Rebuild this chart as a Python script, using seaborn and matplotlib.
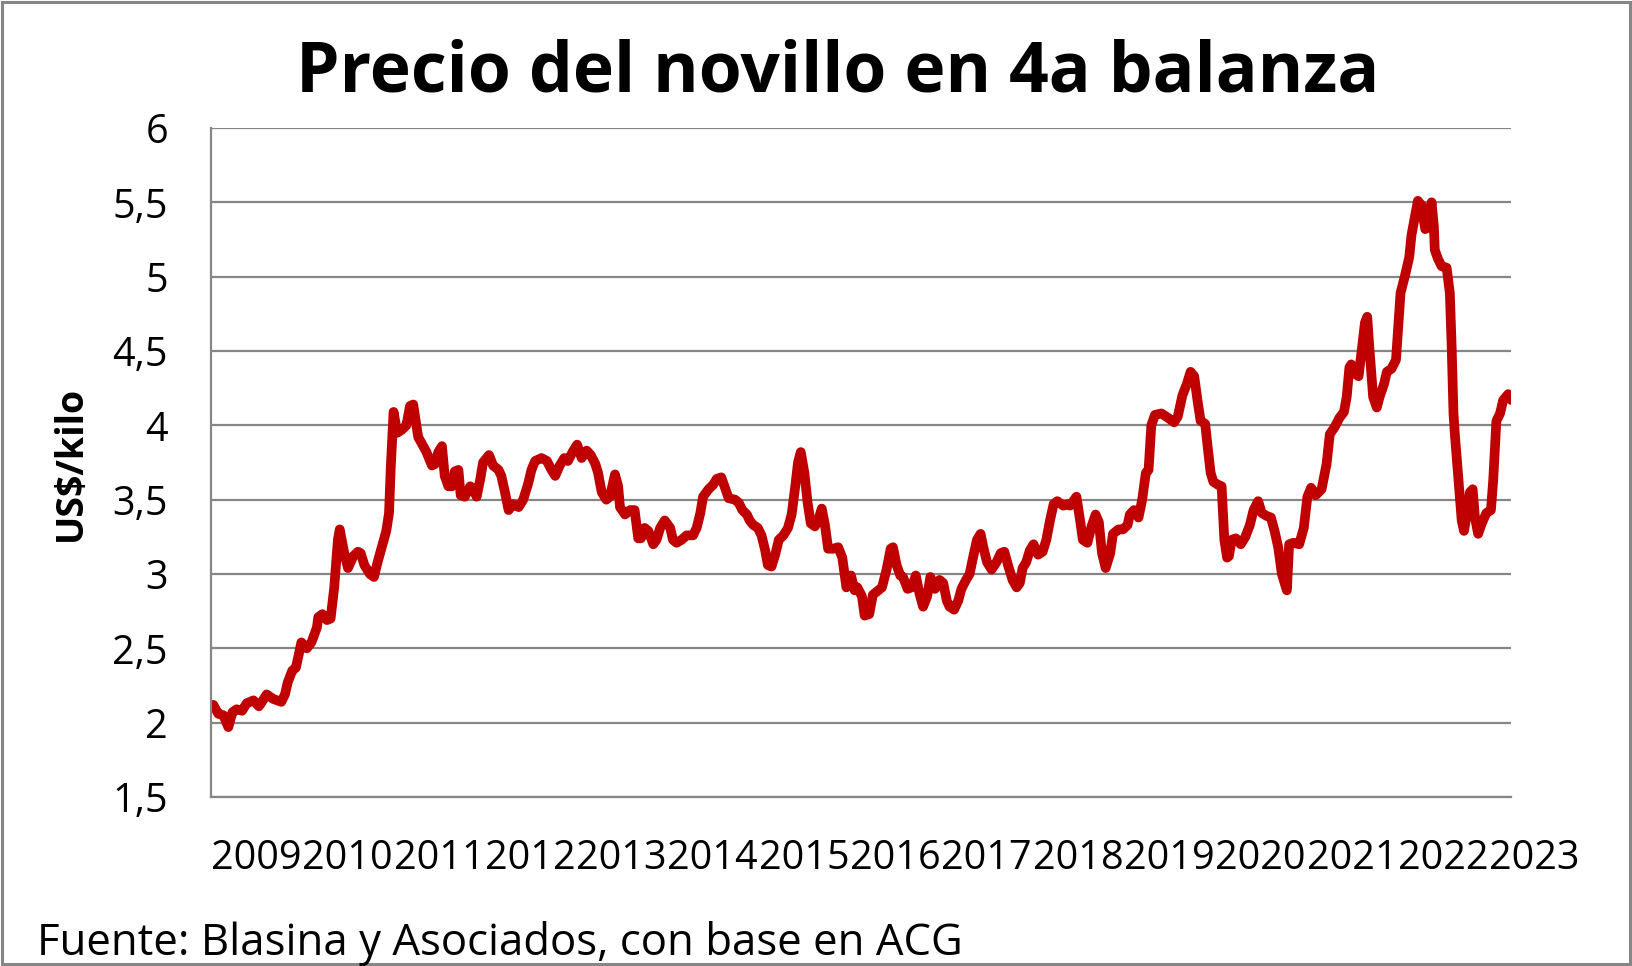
import numpy as np
import pandas as pd
import matplotlib
matplotlib.use("Agg")
import matplotlib.pyplot as plt
from matplotlib.ticker import FuncFormatter
from matplotlib.patches import Rectangle
import seaborn as sns

# Serie semanal aproximada (fecha en años decimales, US$/kilo)
anio = [
    2009.025, 2009.08, 2009.135, 2009.19, 2009.235, 2009.28, 2009.34, 2009.39, 2009.465, 2009.525,
    2009.61, 2009.68, 2009.77, 2009.81, 2009.84, 2009.89, 2009.93, 2009.99, 2010.05, 2010.10,
    2010.16, 2010.175, 2010.22, 2010.27, 2010.31, 2010.35, 2010.39, 2010.41, 2010.46, 2010.50,
    2010.56, 2010.61, 2010.64, 2010.68, 2010.74, 2010.785, 2010.825, 2010.87, 2010.92, 2010.95,
    2010.97, 2011.00, 2011.04, 2011.09, 2011.14, 2011.18, 2011.215, 2011.27, 2011.325, 2011.36,
    2011.42, 2011.455, 2011.49, 2011.53, 2011.56, 2011.60, 2011.64, 2011.67, 2011.71, 2011.735,
    2011.78, 2011.84, 2011.87, 2011.91, 2011.95, 2011.98, 2012.045, 2012.09, 2012.15, 2012.18,
    2012.22, 2012.26, 2012.31, 2012.37, 2012.42, 2012.475, 2012.51, 2012.55, 2012.62, 2012.68,
    2012.73, 2012.77, 2012.82, 2012.87, 2012.91, 2012.96, 2013.01, 2013.06, 2013.115, 2013.16,
    2013.21, 2013.24, 2013.28, 2013.33, 2013.37, 2013.425, 2013.46, 2013.48, 2013.535, 2013.59,
    2013.64, 2013.68, 2013.71, 2013.75, 2013.79, 2013.845, 2013.88, 2013.92, 2013.97, 2014.03,
    2014.06, 2014.10, 2014.155, 2014.21, 2014.28, 2014.32, 2014.36, 2014.39, 2014.45, 2014.50,
    2014.54, 2014.59, 2014.63, 2014.67, 2014.74, 2014.78, 2014.82, 2014.87, 2014.90, 2014.94,
    2014.99, 2015.03, 2015.07, 2015.10, 2015.14, 2015.18, 2015.22, 2015.27, 2015.32, 2015.36,
    2015.40, 2015.43, 2015.46, 2015.50, 2015.535, 2015.57, 2015.615, 2015.65, 2015.69, 2015.725,
    2015.76, 2015.815, 2015.87, 2015.915, 2015.96, 2016.01, 2016.05, 2016.08, 2016.13, 2016.16,
    2016.21, 2016.25, 2016.29, 2016.35, 2016.40, 2016.445, 2016.47, 2016.51, 2016.55, 2016.58,
    2016.63, 2016.675, 2016.72, 2016.76, 2016.80, 2016.845, 2016.88, 2016.93, 2016.98, 2017.02,
    2017.06, 2017.09, 2017.14, 2017.185, 2017.22, 2017.27, 2017.31, 2017.34, 2017.39, 2017.43,
    2017.46, 2017.50, 2017.55, 2017.605, 2017.65, 2017.69, 2017.73, 2017.78, 2017.825, 2017.86,
    2017.89, 2017.93, 2017.97, 2018.01, 2018.06, 2018.11, 2018.15, 2018.19, 2018.23, 2018.27,
    2018.335, 2018.39, 2018.41, 2018.48, 2018.52, 2018.55, 2018.60, 2018.645, 2018.69, 2018.725,
    2018.76, 2018.80, 2018.85, 2018.88, 2018.94, 2018.99, 2019.04, 2019.065, 2019.11, 2019.16,
    2019.20, 2019.24, 2019.27, 2019.30, 2019.34, 2019.41, 2019.485, 2019.55, 2019.59, 2019.64,
    2019.69, 2019.73, 2019.77, 2019.81, 2019.84, 2019.89, 2019.92, 2019.95, 2019.98, 2020.03,
    2020.07, 2020.10, 2020.13, 2020.15, 2020.18, 2020.225, 2020.28, 2020.33, 2020.38, 2020.42,
    2020.47, 2020.51, 2020.565, 2020.61, 2020.65, 2020.69, 2020.73, 2020.785, 2020.81, 2020.855,
    2020.92, 2020.97, 2021.01, 2021.05, 2021.10, 2021.165, 2021.22, 2021.255, 2021.31, 2021.36,
    2021.41, 2021.44, 2021.47, 2021.49, 2021.53, 2021.57, 2021.60, 2021.64, 2021.665, 2021.69,
    2021.73, 2021.77, 2021.80, 2021.85, 2021.88, 2021.93, 2021.98, 2022.005, 2022.03, 2022.08,
    2022.125, 2022.15, 2022.19, 2022.22, 2022.26, 2022.30, 2022.33, 2022.37, 2022.395, 2022.405,
    2022.44, 2022.48, 2022.535, 2022.57, 2022.59, 2022.61, 2022.625, 2022.66, 2022.70, 2022.725,
    2022.75, 2022.79, 2022.82, 2022.845, 2022.88, 2022.92, 2022.97, 2023.02, 2023.045, 2023.08,
    2023.12, 2023.155, 2023.21, 2023.245,
]
precio = [
    2.12, 2.06, 2.05, 1.97, 2.07, 2.09, 2.08, 2.13, 2.15, 2.11,
    2.19, 2.16, 2.14, 2.19, 2.27, 2.35, 2.37, 2.54, 2.50, 2.54,
    2.64, 2.71, 2.73, 2.69, 2.70, 2.91, 3.23, 3.30, 3.14, 3.04,
    3.12, 3.15, 3.14, 3.06, 3.00, 2.98, 3.08, 3.18, 3.29, 3.41,
    3.73, 4.09, 3.95, 3.97, 4.00, 4.13, 4.14, 3.92, 3.86, 3.82,
    3.73, 3.74, 3.82, 3.86, 3.66, 3.59, 3.59, 3.69, 3.70, 3.53,
    3.52, 3.59, 3.57, 3.52, 3.64, 3.75, 3.80, 3.73, 3.70, 3.66,
    3.55, 3.43, 3.47, 3.45, 3.50, 3.61, 3.70, 3.76, 3.78, 3.76,
    3.70, 3.66, 3.73, 3.78, 3.76, 3.82, 3.87, 3.78, 3.83, 3.80,
    3.74, 3.68, 3.55, 3.50, 3.52, 3.67, 3.59, 3.45, 3.40, 3.43,
    3.43, 3.24, 3.24, 3.31, 3.29, 3.20, 3.23, 3.31, 3.36, 3.31,
    3.23, 3.21, 3.23, 3.26, 3.26, 3.31, 3.41, 3.52, 3.57, 3.60,
    3.64, 3.65, 3.58, 3.51, 3.50, 3.48, 3.43, 3.40, 3.36, 3.33,
    3.31, 3.26, 3.16, 3.06, 3.05, 3.13, 3.23, 3.26, 3.31, 3.40,
    3.59, 3.75, 3.82, 3.68, 3.48, 3.34, 3.32, 3.36, 3.44, 3.33,
    3.17, 3.17, 3.18, 3.11, 2.91, 2.99, 2.89, 2.91, 2.85, 2.72,
    2.73, 2.86, 2.88, 2.91, 3.03, 3.17, 3.18, 3.06, 2.99, 2.98,
    2.90, 2.91, 2.99, 2.87, 2.78, 2.85, 2.98, 2.90, 2.96, 2.94,
    2.82, 2.78, 2.76, 2.82, 2.90, 2.96, 3.00, 3.09, 3.23, 3.27,
    3.18, 3.08, 3.03, 3.08, 3.14, 3.15, 3.06, 2.96, 2.91, 2.94,
    3.04, 3.08, 3.16, 3.20, 3.13, 3.15, 3.23, 3.36, 3.47, 3.49,
    3.46, 3.47, 3.46, 3.52, 3.36, 3.23, 3.21, 3.32, 3.40, 3.35,
    3.14, 3.04, 3.14, 3.27, 3.30, 3.30, 3.33, 3.40, 3.43, 3.38,
    3.50, 3.68, 3.70, 4.00, 4.07, 4.08, 4.05, 4.02, 4.06, 4.20,
    4.28, 4.36, 4.33, 4.15, 4.03, 4.01, 3.84, 3.68, 3.62, 3.60,
    3.59, 3.23, 3.11, 3.12, 3.23, 3.24, 3.20, 3.25, 3.33, 3.43,
    3.49, 3.41, 3.39, 3.38, 3.29, 3.18, 3.00, 2.89, 3.20, 3.21,
    3.20, 3.31, 3.52, 3.58, 3.53, 3.57, 3.74, 3.94, 3.99, 4.05,
    4.09, 4.19, 4.39, 4.41, 4.35, 4.33, 4.48, 4.69, 4.73, 4.51,
    4.19, 4.12, 4.19, 4.28, 4.36, 4.38, 4.44, 4.66, 4.89, 5.01,
    5.13, 5.28, 5.41, 5.51, 5.48, 5.32, 5.33, 5.50, 5.34, 5.18,
    5.12, 5.07, 5.06, 4.89, 4.53, 4.08, 3.94, 3.67, 3.36, 3.29,
    3.38, 3.55, 3.57, 3.38, 3.27, 3.34, 3.41, 3.43, 3.63, 4.03,
    4.08, 4.17, 4.21, 4.17,
]

anios_etiqueta = list(range(2009, 2024))
y_ticks = [1.5, 2, 2.5, 3, 3.5, 4, 4.5, 5, 5.5, 6]

titulo = "Precio del novillo en 4a balanza"
eje_y = "US$/kilo"
fuente = "Fuente: Blasina y Asociados, con base en ACG"

df = pd.DataFrame({"anio": anio, "precio": precio})

sns.set_style("white")
plt.rcParams["font.family"] = ["Open Sans", "DejaVu Sans"]
plt.rcParams["text.color"] = "black"

gris = "#868686"
rojo = "#C00000"

fig = plt.figure(figsize=(16.32, 9.66), dpi=100)
ax = fig.add_axes([211 / 1632, 1 - 797 / 966, 1300 / 1632, 669 / 966])

sns.lineplot(data=df, x="anio", y="precio", ax=ax, color=rojo, linewidth=7,
             solid_capstyle="round", solid_joinstyle="round")

ax.set_xlim(2009, 2023.24)
ax.set_ylim(1.5, 6)
ax.set_yticks(y_ticks)
ax.yaxis.set_major_formatter(FuncFormatter(lambda v, p: f"{v:g}".replace(".", ",")))
ax.set_xticks(anios_etiqueta)
ax.set_xticklabels([str(a) for a in anios_etiqueta], ha="left")
ax.tick_params(axis="both", length=0, labelsize=28.5, colors="black")
ax.tick_params(axis="x", pad=30)
ax.tick_params(axis="y", pad=31)
ax.set_xlabel("")
ax.set_ylabel("")

ax.grid(axis="y", color=gris, linewidth=1.6)
ax.grid(axis="x", visible=False)
for s in ["top", "right"]:
    ax.spines[s].set_visible(False)
for s in ["left", "bottom"]:
    ax.spines[s].set_color(gris)
    ax.spines[s].set_linewidth(1.6)

fig.text(838 / 1632, 1 - 92 / 966, titulo, ha="center", va="baseline",
         fontsize=50, fontweight="bold", color="black")
fig.text(71 / 1632, 1 - 463 / 966, eje_y, rotation=90, ha="center", va="center",
         fontsize=27, fontweight="bold", color="black")
fig.text(37 / 1632, 1 - 955 / 966, fuente, ha="left", va="baseline",
         fontsize=31.5, color="black")

fig.patches.append(Rectangle((0.0015, 0.002), 0.997, 0.996, transform=fig.transFigure,
                             fill=False, edgecolor=gris, linewidth=2.2))

fig.savefig("out.png", dpi=100)
